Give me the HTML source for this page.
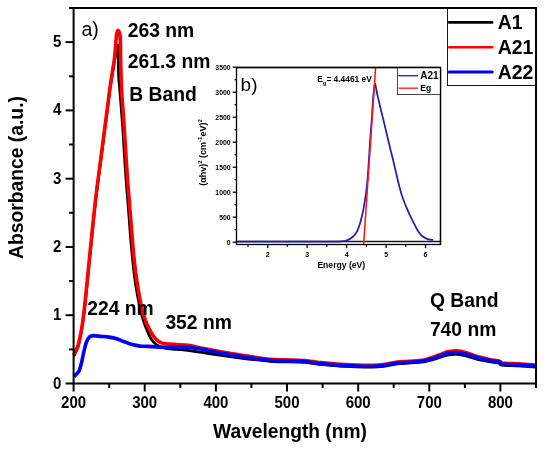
<!DOCTYPE html>
<html><head><meta charset="utf-8"><title>Absorbance</title>
<style>
html,body{margin:0;padding:0;background:#fff;}
body{width:550px;height:450px;overflow:hidden;}
svg{display:block;}
text{font-family:"Liberation Sans",Arial,sans-serif;}
.b{font-weight:bold;}
</style></head><body>
<svg width="550" height="450" viewBox="0 0 550 450">
<rect width="550" height="450" fill="#fff"/>
<!-- main curves -->
<g fill="none" stroke-linejoin="round" stroke-linecap="butt">
<path d="M74.0 356.0 C74.6 354.6 76.8 350.4 77.8 347.4 C78.8 344.4 79.3 341.7 80.1 338.0 C80.9 334.3 81.5 331.3 82.4 325.0 C83.3 318.7 84.2 312.5 85.5 300.0 C86.8 287.5 88.8 266.7 90.5 250.0 C92.2 233.3 93.8 216.5 95.7 200.0 C97.6 183.5 100.3 164.2 102.0 151.0 C103.7 137.8 104.6 130.8 105.9 121.0 C107.2 111.2 108.6 99.5 109.6 92.0 C110.6 84.5 111.2 81.2 112.0 76.0 C112.8 70.8 113.7 65.5 114.5 61.0 C115.3 56.5 116.3 51.6 116.9 49.0 C117.5 46.4 117.7 45.5 117.9 45.3 C118.2 45.1 118.3 46.4 118.4 48.0 C118.5 49.6 118.5 50.5 118.5 55.0 C118.5 59.5 118.4 69.2 118.6 75.0 C118.8 80.8 119.3 84.2 119.8 90.0 C120.3 95.8 120.9 103.3 121.4 110.0 C121.9 116.7 122.5 123.3 122.9 130.0 C123.4 136.7 123.6 141.7 124.1 150.0 C124.6 158.3 125.5 171.7 126.1 180.0 C126.7 188.3 127.2 193.3 127.7 200.0 C128.2 206.7 128.8 213.3 129.3 220.0 C129.8 226.7 130.2 233.0 130.8 240.0 C131.4 247.0 132.1 254.6 132.9 262.0 C133.7 269.4 134.5 276.9 135.6 284.4 C136.7 291.8 138.5 301.1 139.7 306.7 C140.9 312.3 141.4 314.2 142.6 318.0 C143.8 321.8 145.2 325.9 146.6 329.3 C148.0 332.8 149.3 336.1 151.0 338.7 C152.7 341.3 154.3 343.3 156.7 344.9 C159.1 346.5 161.2 347.6 165.6 348.4 C170.0 349.2 177.6 349.3 183.3 349.9 C189.0 350.5 194.2 351.4 200.0 352.2 C205.8 353.0 212.2 354.0 218.0 354.8 C223.8 355.7 228.8 356.5 235.0 357.3 C241.2 358.1 249.2 359.1 255.0 359.7 C260.8 360.4 265.1 360.9 270.0 361.3 C274.9 361.6 279.6 361.7 284.5 361.8 C289.4 361.9 294.7 361.9 299.1 362.1 C303.5 362.3 307.1 362.6 310.7 363.0 C314.3 363.4 317.5 364.0 320.9 364.4 C324.3 364.8 327.1 365.1 331.1 365.4 C335.1 365.7 339.6 366.1 345.0 366.4 C350.4 366.7 357.1 367.1 363.2 367.1 C369.3 367.1 375.9 367.0 381.4 366.5 C386.8 366.0 391.4 364.6 395.9 364.0 C400.4 363.4 404.1 363.4 408.6 363.1 C413.2 362.8 419.2 362.5 423.2 361.9 C427.1 361.4 429.3 360.7 432.3 359.8 C435.3 359.0 438.7 357.8 441.4 356.9 C444.1 356.1 445.8 355.2 448.4 354.8 C451.0 354.4 454.2 354.2 457.1 354.4 C460.0 354.6 462.5 355.0 465.8 355.8 C469.1 356.5 472.7 358.1 476.7 359.1 C480.7 360.1 486.0 361.0 489.8 361.7 C493.6 362.5 497.6 362.8 499.6 363.3 C501.6 363.9 498.7 364.6 501.8 365.0 C504.9 365.4 512.5 365.6 518.2 365.9 C523.9 366.2 533.0 366.8 536.0 367.0" stroke="#000" stroke-width="2.8"/>
<path d="M74.0 355.0 C74.2 354.4 74.8 352.5 75.4 351.1 C76.0 349.7 77.0 348.8 77.8 346.4 C78.6 344.0 79.3 340.7 80.1 337.0 C80.9 333.3 81.5 330.2 82.4 324.0 C83.3 317.8 84.0 312.3 85.3 300.0 C86.6 287.7 88.6 266.7 90.3 250.0 C92.0 233.3 93.6 216.5 95.5 200.0 C97.4 183.5 100.1 164.2 101.8 151.0 C103.5 137.8 104.4 130.8 105.7 121.0 C107.0 111.2 108.4 99.7 109.4 92.0 C110.4 84.3 111.1 80.5 111.9 75.0 C112.7 69.5 113.7 64.5 114.4 59.0 C115.1 53.5 115.5 46.1 115.9 42.0 C116.3 37.9 116.3 36.4 116.6 34.5 C116.9 32.6 117.2 31.0 117.7 30.6 C118.2 30.2 118.9 31.2 119.3 32.3 C119.7 33.4 120.0 34.9 120.2 37.0 C120.4 39.1 120.4 41.5 120.5 45.0 C120.5 48.5 120.5 54.1 120.6 58.3 C120.7 62.5 120.7 64.7 120.9 70.0 C121.1 75.3 121.2 83.3 121.6 90.0 C121.9 96.7 122.5 103.3 123.0 110.0 C123.5 116.7 124.0 123.3 124.4 130.0 C124.8 136.7 125.1 141.7 125.6 150.0 C126.1 158.3 127.0 171.7 127.6 180.0 C128.2 188.3 128.7 193.3 129.2 200.0 C129.7 206.7 130.3 213.3 130.8 220.0 C131.3 226.7 131.8 233.0 132.4 240.0 C133.0 247.0 133.6 254.6 134.4 262.0 C135.2 269.4 136.2 276.9 137.4 284.4 C138.6 291.8 140.2 301.1 141.4 306.7 C142.6 312.3 143.3 314.2 144.6 318.0 C145.9 321.8 147.6 325.9 149.4 329.3 C151.2 332.8 153.4 336.4 155.5 338.7 C157.6 341.0 158.8 342.2 162.0 343.1 C165.2 344.1 170.0 344.0 174.4 344.4 C178.8 344.8 184.4 344.8 188.7 345.4 C193.0 346.0 195.1 346.8 200.0 347.8 C204.9 348.8 212.2 350.1 218.0 351.2 C223.8 352.2 228.8 353.1 235.0 354.1 C241.2 355.1 249.2 356.4 255.0 357.2 C260.8 358.1 265.1 358.7 270.0 359.2 C274.9 359.6 279.6 359.7 284.5 359.9 C289.4 360.1 294.7 360.1 299.1 360.3 C303.5 360.5 307.1 360.8 310.7 361.2 C314.3 361.6 317.5 362.2 320.9 362.6 C324.3 363.0 327.1 363.3 331.1 363.6 C335.1 363.9 339.6 364.3 345.0 364.6 C350.4 364.9 357.1 365.3 363.2 365.3 C369.3 365.3 375.9 365.2 381.4 364.7 C386.8 364.2 391.4 362.8 395.9 362.2 C400.4 361.6 404.1 361.7 408.6 361.3 C413.2 360.9 419.2 360.6 423.2 360.0 C427.1 359.3 429.3 358.4 432.3 357.4 C435.3 356.4 438.7 355.0 441.4 354.1 C444.1 353.1 445.8 352.1 448.4 351.6 C451.0 351.1 454.2 350.7 457.1 350.8 C460.0 351.0 462.5 351.6 465.8 352.5 C469.1 353.4 472.7 355.1 476.7 356.2 C480.7 357.4 486.0 358.5 489.8 359.4 C493.6 360.2 497.6 360.7 499.6 361.3 C501.6 361.9 498.7 362.6 501.8 363.0 C504.9 363.4 512.5 363.6 518.2 363.9 C523.9 364.2 533.0 364.8 536.0 365.0" stroke="#ff0000" stroke-width="3.6"/>
<path d="M74.0 376.8 C74.4 376.4 75.3 375.4 76.2 374.4 C77.1 373.3 78.4 372.6 79.3 370.5 C80.2 368.4 80.9 365.2 81.7 362.0 C82.5 358.8 83.2 354.4 84.0 351.1 C84.8 347.9 85.4 344.8 86.3 342.5 C87.2 340.2 88.2 338.2 89.4 337.1 C90.6 336.0 91.3 335.7 93.3 335.6 C95.2 335.5 98.5 336.1 101.1 336.4 C103.7 336.6 106.3 336.7 108.9 337.1 C111.5 337.5 114.1 337.9 116.7 338.7 C119.3 339.5 121.8 340.8 124.4 341.8 C127.0 342.8 129.6 343.9 132.2 344.6 C134.8 345.3 137.4 345.8 140.0 346.1 C142.6 346.4 143.5 346.2 147.8 346.4 C152.1 346.6 159.7 347.1 165.6 347.2 C171.5 347.3 177.6 346.6 183.3 346.9 C189.0 347.2 194.2 348.0 200.0 348.9 C205.8 349.8 212.2 351.4 218.0 352.5 C223.8 353.6 228.8 354.6 235.0 355.6 C241.2 356.6 249.2 357.8 255.0 358.6 C260.8 359.4 265.1 360.0 270.0 360.4 C274.9 360.8 279.6 360.9 284.5 361.0 C289.4 361.1 294.7 361.1 299.1 361.3 C303.5 361.5 307.1 361.8 310.7 362.2 C314.3 362.6 317.5 363.2 320.9 363.6 C324.3 364.0 327.1 364.3 331.1 364.6 C335.1 364.9 339.6 365.3 345.0 365.6 C350.4 365.9 357.1 366.3 363.2 366.3 C369.3 366.3 375.9 366.2 381.4 365.7 C386.8 365.2 391.4 363.8 395.9 363.2 C400.4 362.6 404.1 362.7 408.6 362.3 C413.2 361.9 419.2 361.6 423.2 361.0 C427.1 360.4 429.3 359.5 432.3 358.6 C435.3 357.7 438.7 356.3 441.4 355.4 C444.1 354.5 445.8 353.6 448.4 353.1 C451.0 352.6 454.2 352.4 457.1 352.5 C460.0 352.6 462.5 353.2 465.8 354.0 C469.1 354.8 472.7 356.4 476.7 357.5 C480.7 358.6 486.0 359.7 489.8 360.5 C493.6 361.3 497.6 361.7 499.6 362.3 C501.6 362.9 498.7 363.6 501.8 364.0 C504.9 364.4 512.5 364.6 518.2 364.9 C523.9 365.2 533.0 365.8 536.0 366.0" stroke="#0000f5" stroke-width="3.6"/>
</g>
<!-- main frame -->
<g stroke="#000" stroke-width="2" fill="none">
<rect x="73.6" y="8.0" width="462.4" height="375.5"/>
<line x1="65.6" y1="383.5" x2="73.6" y2="383.5"/>
<line x1="69.1" y1="349.4" x2="73.6" y2="349.4"/>
<line x1="65.6" y1="315.2" x2="73.6" y2="315.2"/>
<line x1="69.1" y1="281.1" x2="73.6" y2="281.1"/>
<line x1="65.6" y1="247.0" x2="73.6" y2="247.0"/>
<line x1="69.1" y1="212.8" x2="73.6" y2="212.8"/>
<line x1="65.6" y1="178.7" x2="73.6" y2="178.7"/>
<line x1="69.1" y1="144.5" x2="73.6" y2="144.5"/>
<line x1="65.6" y1="110.4" x2="73.6" y2="110.4"/>
<line x1="69.1" y1="76.3" x2="73.6" y2="76.3"/>
<line x1="65.6" y1="42.1" x2="73.6" y2="42.1"/>
<line x1="69.1" y1="8.0" x2="73.6" y2="8.0"/>
<line x1="73.6" y1="383.5" x2="73.6" y2="391.5"/>
<line x1="109.2" y1="383.5" x2="109.2" y2="388.0"/>
<line x1="144.7" y1="383.5" x2="144.7" y2="391.5"/>
<line x1="180.3" y1="383.5" x2="180.3" y2="388.0"/>
<line x1="215.9" y1="383.5" x2="215.9" y2="391.5"/>
<line x1="251.4" y1="383.5" x2="251.4" y2="388.0"/>
<line x1="287.0" y1="383.5" x2="287.0" y2="391.5"/>
<line x1="322.6" y1="383.5" x2="322.6" y2="388.0"/>
<line x1="358.2" y1="383.5" x2="358.2" y2="391.5"/>
<line x1="393.7" y1="383.5" x2="393.7" y2="388.0"/>
<line x1="429.3" y1="383.5" x2="429.3" y2="391.5"/>
<line x1="464.9" y1="383.5" x2="464.9" y2="388.0"/>
<line x1="500.4" y1="383.5" x2="500.4" y2="391.5"/>
<line x1="536.0" y1="383.5" x2="536.0" y2="388.0"/>
</g>
<g class="b" font-size="15" text-anchor="end" fill="#000">
<text transform="translate(61.4,388.5) scale(1,1.07)">0</text>
<text transform="translate(61.4,320.2) scale(1,1.07)">1</text>
<text transform="translate(61.4,252.0) scale(1,1.07)">2</text>
<text transform="translate(61.4,183.7) scale(1,1.07)">3</text>
<text transform="translate(61.4,115.4) scale(1,1.07)">4</text>
<text transform="translate(61.4,47.1) scale(1,1.07)">5</text>
</g>
<g class="b" font-size="15" text-anchor="middle" fill="#000">
<text transform="translate(73.6,408.2) scale(1,1.07)">200</text>
<text transform="translate(144.7,408.2) scale(1,1.07)">300</text>
<text transform="translate(215.9,408.2) scale(1,1.07)">400</text>
<text transform="translate(287.0,408.2) scale(1,1.07)">500</text>
<text transform="translate(358.2,408.2) scale(1,1.07)">600</text>
<text transform="translate(429.3,408.2) scale(1,1.07)">700</text>
<text transform="translate(500.4,408.2) scale(1,1.07)">800</text>
</g>
<text class="b" transform="translate(290,438.2) scale(1,1.08)" font-size="19.2" text-anchor="middle">Wavelength (nm)</text>
<text class="b" transform="translate(23.2,177.5) rotate(-90)" font-size="19.3" text-anchor="middle">Absorbance (a.u.)</text>
<text x="81.4" y="36.3" font-size="19.5">a)</text>
<g class="b" font-size="19.3" fill="#000">
<text transform="translate(127.8,36.6) scale(1,1.04)">263 nm</text>
<text transform="translate(127.8,67.8) scale(1,1.04)">261.3 nm</text>
<text transform="translate(129.3,101.3) scale(1,1.04)">B Band</text>
<text transform="translate(87.2,315.0) scale(1,1.04)">224 nm</text>
<text transform="translate(165.4,328.8) scale(1,1.04)">352 nm</text>
<text transform="translate(429.9,306.7) scale(1,1.04)">Q Band</text>
<text transform="translate(429.9,335.5) scale(1,1.04)">740 nm</text>
</g>
<!-- legend -->
<rect x="447.5" y="8" width="88.5" height="77.5" fill="#fff" stroke="#1a1a1a" stroke-width="1"/>
<line x1="536" y1="8" x2="536" y2="85.5" stroke="#000" stroke-width="2"/>
<line x1="73.6" y1="8" x2="536" y2="8" stroke="#000" stroke-width="2"/>
<g stroke-width="2.6" stroke-linecap="round">
<line x1="449.2" y1="22.4" x2="492.2" y2="22.4" stroke="#000"/>
<line x1="449.2" y1="47.3" x2="492.2" y2="47.3" stroke="#ff0000"/>
<line x1="449.2" y1="71.9" x2="492.2" y2="71.9" stroke="#0000f5" stroke-width="3"/>
</g>
<g class="b" font-size="19.4">
<text transform="translate(497.8,28.9) scale(1,1.05)">A1</text>
<text transform="translate(497.8,53.9) scale(1,1.05)">A21</text>
<text transform="translate(497.8,78.7) scale(1,1.05)">A22</text>
</g>
<!-- inset -->
<rect x="236.5" y="67.5" width="204.0" height="177.0" fill="#fff" stroke="none"/>
<line x1="236.5" y1="241.5" x2="440.5" y2="241.5" stroke="#1a1a1a" stroke-width="1.4"/>
<path d="M237.0 241.7 C247.5 241.7 284.5 241.7 300.0 241.7 C315.5 241.7 323.2 241.6 330.0 241.6 C336.8 241.6 338.2 241.6 341.0 241.4 C343.8 241.2 345.2 241.0 347.0 240.3 C348.8 239.7 350.5 238.7 352.0 237.5 C353.5 236.3 354.8 234.9 355.9 233.3 C357.0 231.7 357.7 229.9 358.5 228.0 C359.3 226.1 359.7 224.7 360.5 221.7 C361.3 218.7 362.5 213.9 363.3 210.0 C364.1 206.1 364.6 202.2 365.2 198.3 C365.8 194.4 366.3 191.4 366.8 186.7 C367.3 182.0 367.8 176.1 368.2 170.0 C368.6 163.9 369.1 156.7 369.5 150.0 C369.9 143.3 370.5 135.5 370.9 130.0 C371.3 124.5 371.5 122.5 371.9 117.0 C372.3 111.5 372.8 101.8 373.2 97.0 C373.6 92.2 373.8 90.2 374.1 88.0 C374.4 85.8 374.7 83.3 375.1 83.6 C375.5 83.9 376.0 87.9 376.4 90.0 C376.8 92.1 377.2 93.8 377.7 96.2 C378.2 98.6 379.0 101.5 379.6 104.2 C380.2 106.9 380.9 109.5 381.5 112.2 C382.1 114.9 382.9 117.5 383.5 120.2 C384.1 122.9 384.8 125.5 385.4 128.2 C386.0 130.9 386.7 133.5 387.3 136.2 C387.9 138.9 388.6 141.5 389.2 144.2 C389.8 146.9 390.5 149.5 391.1 152.2 C391.8 154.9 392.5 157.5 393.1 160.2 C393.8 162.9 394.4 165.5 395.0 168.2 C395.6 170.9 396.3 173.5 396.9 176.2 C397.5 178.9 398.1 181.5 398.8 184.2 C399.5 186.9 400.1 189.5 400.9 192.2 C401.7 194.9 402.8 198.0 403.6 200.2 C404.4 202.4 404.8 203.5 405.5 205.2 C406.2 206.9 406.9 208.5 407.6 210.2 C408.3 211.9 409.1 213.5 409.9 215.2 C410.7 216.9 411.5 218.5 412.3 220.2 C413.1 221.9 414.0 223.5 414.9 225.2 C415.8 226.9 416.6 228.8 417.5 230.2 C418.4 231.6 419.2 232.8 420.0 233.8 C420.8 234.8 421.1 235.4 422.4 236.3 C423.6 237.2 425.7 238.5 427.5 239.1 C429.3 239.7 432.2 239.8 433.2 239.9" fill="none" stroke="#2418b4" stroke-width="1.7" stroke-linejoin="round"/>
<line x1="363.6" y1="244.6" x2="375.6" y2="67.5" stroke="#ff1010" stroke-width="1.5"/>
<g stroke="#000" stroke-width="1.3" fill="none">
<rect x="236.5" y="67.5" width="204.0" height="177.0"/>
<line x1="232.7" y1="242.2" x2="236.5" y2="242.2"/>
<line x1="234.5" y1="229.7" x2="236.5" y2="229.7"/>
<line x1="232.7" y1="217.2" x2="236.5" y2="217.2"/>
<line x1="234.5" y1="204.7" x2="236.5" y2="204.7"/>
<line x1="232.7" y1="192.2" x2="236.5" y2="192.2"/>
<line x1="234.5" y1="179.7" x2="236.5" y2="179.7"/>
<line x1="232.7" y1="167.2" x2="236.5" y2="167.2"/>
<line x1="234.5" y1="154.7" x2="236.5" y2="154.7"/>
<line x1="232.7" y1="142.2" x2="236.5" y2="142.2"/>
<line x1="234.5" y1="129.7" x2="236.5" y2="129.7"/>
<line x1="232.7" y1="117.2" x2="236.5" y2="117.2"/>
<line x1="234.5" y1="104.7" x2="236.5" y2="104.7"/>
<line x1="232.7" y1="92.2" x2="236.5" y2="92.2"/>
<line x1="234.5" y1="79.7" x2="236.5" y2="79.7"/>
<line x1="232.7" y1="67.2" x2="236.5" y2="67.2"/>
<line x1="248.0" y1="244.5" x2="248.0" y2="246.7"/>
<line x1="267.7" y1="244.5" x2="267.7" y2="248.0"/>
<line x1="287.4" y1="244.5" x2="287.4" y2="246.7"/>
<line x1="307.1" y1="244.5" x2="307.1" y2="248.0"/>
<line x1="326.9" y1="244.5" x2="326.9" y2="246.7"/>
<line x1="346.6" y1="244.5" x2="346.6" y2="248.0"/>
<line x1="366.3" y1="244.5" x2="366.3" y2="246.7"/>
<line x1="386.1" y1="244.5" x2="386.1" y2="248.0"/>
<line x1="405.8" y1="244.5" x2="405.8" y2="246.7"/>
<line x1="425.5" y1="244.5" x2="425.5" y2="248.0"/>
</g>
<g class="b" font-size="6.85" text-anchor="end">
<text x="230.6" y="244.6">0</text>
<text x="230.6" y="219.6">500</text>
<text x="230.6" y="194.6">1000</text>
<text x="230.6" y="169.6">1500</text>
<text x="230.6" y="144.6">2000</text>
<text x="230.6" y="119.6">2500</text>
<text x="230.6" y="94.6">3000</text>
<text x="230.6" y="69.6">3500</text>
</g>
<g class="b" font-size="7" text-anchor="middle">
<text x="267.7" y="256.6">2</text>
<text x="307.1" y="256.6">3</text>
<text x="346.6" y="256.6">4</text>
<text x="386.1" y="256.6">5</text>
<text x="425.5" y="256.6">6</text>
</g>
<text class="b" x="317.4" y="267.7" font-size="8.6">Energy (eV)</text>
<text class="b" transform="translate(205.9,185.8) rotate(-90)" font-size="9">(&#945;hv)<tspan font-size="6" dy="-3.6">2</tspan><tspan dy="3.6"> (cm</tspan><tspan font-size="6" dy="-3.6">-1</tspan><tspan dy="3.6">eV)</tspan><tspan font-size="6" dy="-3.6">2</tspan></text>
<text x="240.6" y="91.1" font-size="19">b)</text>
<text class="b" x="317.2" y="81.7" font-size="8.4">E<tspan font-size="5.9" dy="3">g</tspan><tspan dy="-3">= 4.4461 eV</tspan></text>
<!-- inset legend -->
<rect x="397.5" y="67.5" width="43" height="27" fill="#fff" stroke="#333" stroke-width="0.9"/>
<line x1="398.5" y1="75.7" x2="418" y2="75.7" stroke="#2a2ac4" stroke-width="1.4"/>
<line x1="398.5" y1="88.2" x2="418" y2="88.2" stroke="#ff2a2a" stroke-width="1.4"/>
<text class="b" x="420.2" y="79.1" font-size="10">A21</text>
<text class="b" x="420.3" y="91.1" font-size="8.6">Eg</text>
<line x1="236.5" y1="67.5" x2="440.5" y2="67.5" stroke="#000" stroke-width="1.3"/>
<line x1="440.5" y1="67.5" x2="440.5" y2="244.5" stroke="#000" stroke-width="1.3"/>
</svg>
</body></html>
